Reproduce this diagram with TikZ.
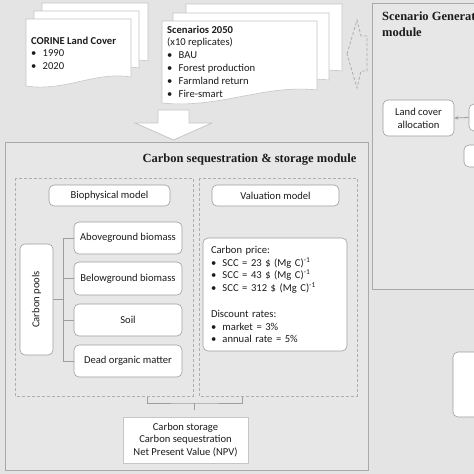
\documentclass[tikz,border=0pt]{standalone}
\usepackage{fontspec}
\setmainfont{Carlito}
\newfontfamily\titlefont{Liberation Serif}
\usetikzlibrary{arrows.meta}

\definecolor{bggray}{HTML}{E4E4E4}
\definecolor{modfill}{HTML}{E7E7E7}
\definecolor{modgray}{HTML}{A9A9A9}
\definecolor{dashgray}{HTML}{AEAEAE}
\definecolor{boxgray}{HTML}{9E9E9E}
\definecolor{pagegray}{HTML}{C6C6C6}
\definecolor{inkgray}{HTML}{1C1C1C}

% one page of a stacked document, wavy bottom edge
\newcommand\docpage[5]{%
  \draw[page] (#1,#4) -- (#1,#2) -- (#3,#2) -- (#3,#5)
    .. controls ({#1+0.66*(#3-#1)},{#5-6}) and ({#1+0.37*(#3-#1)},{#4+6}) .. (#1,#4) -- cycle;}
\newcommand\itm{\makebox[11.5pt][l]{\textbullet}}

\tikzset{
  module/.style={draw=modgray, fill=modfill, line width=0.8pt},
  dashbox/.style={draw=dashgray, line width=0.8pt, dash pattern=on 3pt off 2pt},
  page/.style={draw=pagegray, fill=white, line width=0.6pt},
  rbox/.style={draw=boxgray, fill=white, rounded corners=5pt, line width=0.6pt,
    align=center, inner sep=2pt},
  outbox/.style={draw=pagegray, fill=white, line width=0.6pt, align=center, inner sep=2pt},
  doctext/.style={align=left, inner sep=0pt, anchor=north west},
  modtitle/.style={font=\titlefont\bfseries\fontsize{12.5}{16}\selectfont, inner sep=0pt},
  link/.style={draw=boxgray, line width=0.8pt},
  bigarrow/.style={draw=pagegray, fill=white, line width=0.8pt, line join=miter}
}

\begin{document}
\begin{tikzpicture}[x=1pt, y=-1pt, font=\fontsize{10.6}{12.8}\selectfont, text=inkgray]
  \useasboundingbox (0,0) rectangle (474,474);
  \clip (0,0) rectangle (474,474);
  \fill[bggray] (0,0) rectangle (474,474);

  % modules
  \draw[module] (372,3) rectangle (495,289);
  \draw[module] (5,142) rectangle (368,470);
  \draw[dashbox] (15,178) rectangle (193,396);
  \draw[dashbox] (199,178) rectangle (357,396);

  \node[modtitle, anchor=north west, align=left] (sgtitle) at (382,12)
    {Scenario Generation\\module};
  \node[modtitle] (cstitle) at (249.5,160) {Carbon sequestration \& storage module};

  % input maps and scenarios
  \docpage{42}{3}{148}{70}{61}
  \docpage{34}{11}{139}{77}{68}
  \docpage{26}{19}{131}{86}{77}
  \docpage{186}{4}{342}{84}{71}
  \docpage{173}{13}{329}{93}{80}
  \docpage{162}{21}{317}{103}{90}

  \node[doctext] (corine) at (31,36.5)
    {\textbf{CORINE Land Cover}\\\itm 1990\\\itm 2020};
  \node[doctext] (scen) at (167,25.5)
    {\textbf{Scenarios 2050}\\(x10 replicates)\\\itm BAU\\\itm Forest production\\
     \itm Farmland return\\\itm Fire-smart};

  \draw[dashbox] (347,54) -- (357,20) -- (361,36) -- (367,36) -- (367,71)
    -- (361,71) -- (357,88) -- cycle;
  \draw[bigarrow] (158,110) -- (189,110) -- (189,123) -- (212,123) -- (173.5,140)
    -- (135,123) -- (158,123) -- cycle;

  % scenario generation module
  \node[rbox, minimum width=71, minimum height=36] (landcover) at (418.5,118)
    {Land cover\\allocation};
  \node[rbox, minimum width=32, minimum height=27] (demand) at (485,117.5) {};
  \node[rbox, minimum width=32, minimum height=22] (suit) at (480,156) {};
  \node[rbox, minimum width=44, minimum height=65] (other) at (475,384.5) {};

  % carbon module
  \node[rbox, minimum width=121, minimum height=21] (bio) at (109.5,195.5) {Biophysical model};
  \node[rbox, minimum width=127, minimum height=21] (val) at (275.5,195.5) {Valuation model};

  \node[rbox, minimum width=111, minimum height=33, rotate=90] (pools) at (36.5,299.5)
    {Carbon pools};
  \node[rbox, minimum width=108, minimum height=32] (above) at (128,238) {Aboveground biomass};
  \node[rbox, minimum width=108, minimum height=33] (below) at (128,278.5) {Belowground biomass};
  \node[rbox, minimum width=108, minimum height=32] (soil)  at (128,320) {Soil};
  \node[rbox, minimum width=108, minimum height=32] (dead)  at (128,361) {Dead organic matter};

  \node[rbox, minimum width=144, minimum height=113, text width=128, align=left,
        inner xsep=8pt] (price) at (275,294.5)
    {Carbon price:\\
     \itm SCC = 23 \$ (Mg C)\textsuperscript{-1}\\
     \itm SCC = 43 \$ (Mg C)\textsuperscript{-1}\\
     \itm SCC = 312 \$ (Mg C)\textsuperscript{-1}\\[12.8pt]
     Discount rates:\\
     \itm market = 3\%\\
     \itm annual rate = 5\%};

  \node[outbox, minimum width=125, minimum height=46] (out) at (185.5,440)
    {Carbon storage\\Carbon sequestration\\Net Present Value (NPV)};

  % connectors
  \coordinate (jn) at (63,299.5);
  \draw[link] (pools.south) -- (jn);
  \draw[link] (jn) |- (above.west) (jn) |- (below.west)
              (jn) |- (soil.west)  (jn) |- (dead.west);

  \coordinate (brl) at (147,397);
  \coordinate (brr) at (242,397);
  \coordinate (brc) at (194.5,403);
  \coordinate (brt) at (194.5,410);
  \draw[link] (brl) |- (brc) -| (brr);
  \draw[link] (brc) -- (brt);

  \draw[link, -{Stealth[length=4pt, width=3.5pt]}] (demand.west) -- (landcover.east);
\end{tikzpicture}
\end{document}
